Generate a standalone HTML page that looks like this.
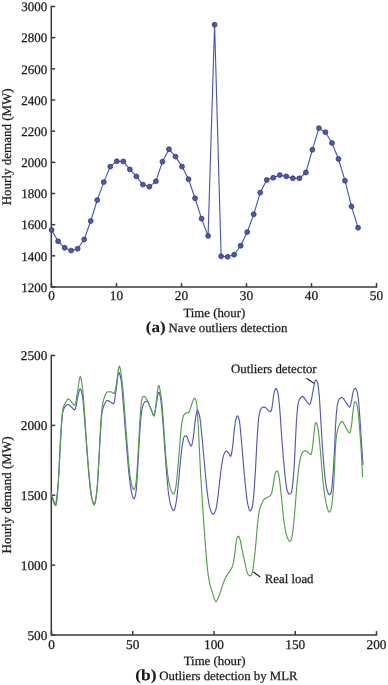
<!DOCTYPE html>
<html lang="en"><head><meta charset="utf-8"><title>Outliers detection</title>
<style>html,body{margin:0;padding:0;background:#fff}svg{display:block}text{text-rendering:geometricPrecision;font-family:"Liberation Serif","Times New Roman",serif;font-size:12.8px;fill:#1a1a1a;stroke:#1a1a1a;stroke-width:0.25px}.t{font-size:13.3px}.b{font-weight:bold;font-size:15.5px;stroke-width:0.15px}</style></head><body>
<svg width="388" height="685" viewBox="0 0 388 685">
<rect width="388" height="685" fill="#fff"/>
<g stroke="#3a3a3a" stroke-width="1.5" fill="none">
<path d="M51.3,5.8 V287.0 H377.2"/>
<path d="M51.5,287.00 h3.7"/>
<path d="M51.5,255.83 h3.7"/>
<path d="M51.5,224.67 h3.7"/>
<path d="M51.5,193.50 h3.7"/>
<path d="M51.5,162.33 h3.7"/>
<path d="M51.5,131.17 h3.7"/>
<path d="M51.5,100.00 h3.7"/>
<path d="M51.5,68.83 h3.7"/>
<path d="M51.5,37.67 h3.7"/>
<path d="M51.5,6.50 h3.7"/>
<path d="M51.50,287.0 v-3.9"/>
<path d="M116.50,287.0 v-3.9"/>
<path d="M181.50,287.0 v-3.9"/>
<path d="M246.50,287.0 v-3.9"/>
<path d="M311.50,287.0 v-3.9"/>
<path d="M376.50,287.0 v-3.9"/>
</g>
<text class="t" style="font-size:13px" x="47.2" y="291.70" text-anchor="end">1200</text>
<text class="t" style="font-size:13px" x="47.2" y="260.53" text-anchor="end">1400</text>
<text class="t" style="font-size:13px" x="47.2" y="229.37" text-anchor="end">1600</text>
<text class="t" style="font-size:13px" x="47.2" y="198.20" text-anchor="end">1800</text>
<text class="t" style="font-size:13px" x="47.2" y="167.03" text-anchor="end">2000</text>
<text class="t" style="font-size:13px" x="47.2" y="135.87" text-anchor="end">2200</text>
<text class="t" style="font-size:13px" x="47.2" y="104.70" text-anchor="end">2400</text>
<text class="t" style="font-size:13px" x="47.2" y="73.53" text-anchor="end">2600</text>
<text class="t" style="font-size:13px" x="47.2" y="42.37" text-anchor="end">2800</text>
<text class="t" style="font-size:13px" x="47.2" y="11.20" text-anchor="end">3000</text>
<text x="51.50" class="t" y="300.30" text-anchor="middle">0</text>
<text x="116.50" class="t" y="300.30" text-anchor="middle">10</text>
<text x="181.50" class="t" y="300.30" text-anchor="middle">20</text>
<text x="246.50" class="t" y="300.30" text-anchor="middle">30</text>
<text x="311.50" class="t" y="300.30" text-anchor="middle">40</text>
<text x="376.50" class="t" y="300.30" text-anchor="middle">50</text>
<text style="font-size:13px" transform="translate(11.4,146.8) rotate(-90)" text-anchor="middle">Hourly demand (MW)</text>
<text x="214.3" y="317" text-anchor="middle">Time (hour)</text>
<text class="b" transform="translate(145.7,332.3) scale(1.10,1)">(a)</text>
<text x="168.6" y="332.4">Nave outliers detection</text>
<path d="M51.60,230.00 L58.12,241.30 L64.64,247.80 L71.16,250.60 L77.68,248.80 L84.20,239.50 L90.72,221.00 L97.24,200.10 L103.76,182.10 L110.28,166.60 L116.80,161.20 L123.32,161.40 L129.84,169.40 L136.36,176.40 L142.88,184.60 L149.40,186.70 L155.92,181.30 L162.44,161.70 L168.96,149.20 L175.48,156.60 L182.00,166.60 L188.52,179.20 L195.04,198.30 L201.56,218.70 L208.08,235.90 L214.60,24.70 L221.12,256.30 L227.64,256.80 L234.16,254.70 L240.68,245.70 L247.20,232.10 L253.72,214.30 L260.24,192.60 L266.76,180.00 L273.28,177.70 L279.80,175.10 L286.32,176.40 L292.84,178.20 L299.36,178.30 L305.88,172.50 L312.40,149.70 L318.92,128.10 L325.44,132.20 L331.96,143.00 L338.48,159.00 L345.00,180.70 L351.52,206.40 L358.04,227.80" fill="none" stroke="#4552b8" stroke-width="1.1" stroke-linejoin="round"/>
<g fill="#4d59b0" stroke="#2a327c" stroke-width="0.75">
<circle cx="51.60" cy="230.00" r="2.45"/>
<circle cx="58.12" cy="241.30" r="2.45"/>
<circle cx="64.64" cy="247.80" r="2.45"/>
<circle cx="71.16" cy="250.60" r="2.45"/>
<circle cx="77.68" cy="248.80" r="2.45"/>
<circle cx="84.20" cy="239.50" r="2.45"/>
<circle cx="90.72" cy="221.00" r="2.45"/>
<circle cx="97.24" cy="200.10" r="2.45"/>
<circle cx="103.76" cy="182.10" r="2.45"/>
<circle cx="110.28" cy="166.60" r="2.45"/>
<circle cx="116.80" cy="161.20" r="2.45"/>
<circle cx="123.32" cy="161.40" r="2.45"/>
<circle cx="129.84" cy="169.40" r="2.45"/>
<circle cx="136.36" cy="176.40" r="2.45"/>
<circle cx="142.88" cy="184.60" r="2.45"/>
<circle cx="149.40" cy="186.70" r="2.45"/>
<circle cx="155.92" cy="181.30" r="2.45"/>
<circle cx="162.44" cy="161.70" r="2.45"/>
<circle cx="168.96" cy="149.20" r="2.45"/>
<circle cx="175.48" cy="156.60" r="2.45"/>
<circle cx="182.00" cy="166.60" r="2.45"/>
<circle cx="188.52" cy="179.20" r="2.45"/>
<circle cx="195.04" cy="198.30" r="2.45"/>
<circle cx="201.56" cy="218.70" r="2.45"/>
<circle cx="208.08" cy="235.90" r="2.45"/>
<circle cx="214.60" cy="24.70" r="2.45"/>
<circle cx="221.12" cy="256.30" r="2.45"/>
<circle cx="227.64" cy="256.80" r="2.45"/>
<circle cx="234.16" cy="254.70" r="2.45"/>
<circle cx="240.68" cy="245.70" r="2.45"/>
<circle cx="247.20" cy="232.10" r="2.45"/>
<circle cx="253.72" cy="214.30" r="2.45"/>
<circle cx="260.24" cy="192.60" r="2.45"/>
<circle cx="266.76" cy="180.00" r="2.45"/>
<circle cx="273.28" cy="177.70" r="2.45"/>
<circle cx="279.80" cy="175.10" r="2.45"/>
<circle cx="286.32" cy="176.40" r="2.45"/>
<circle cx="292.84" cy="178.20" r="2.45"/>
<circle cx="299.36" cy="178.30" r="2.45"/>
<circle cx="305.88" cy="172.50" r="2.45"/>
<circle cx="312.40" cy="149.70" r="2.45"/>
<circle cx="318.92" cy="128.10" r="2.45"/>
<circle cx="325.44" cy="132.20" r="2.45"/>
<circle cx="331.96" cy="143.00" r="2.45"/>
<circle cx="338.48" cy="159.00" r="2.45"/>
<circle cx="345.00" cy="180.70" r="2.45"/>
<circle cx="351.52" cy="206.40" r="2.45"/>
<circle cx="358.04" cy="227.80" r="2.45"/>
</g>
<g stroke="#3a3a3a" stroke-width="1.5" fill="none">
<path d="M51.3,354.8 V635.0 H377.2"/>
<path d="M51.5,635.00 h3.7"/>
<path d="M51.5,565.12 h3.7"/>
<path d="M51.5,495.25 h3.7"/>
<path d="M51.5,425.38 h3.7"/>
<path d="M51.5,355.50 h3.7"/>
<path d="M51.50,635.0 v-3.9"/>
<path d="M132.75,635.0 v-3.9"/>
<path d="M214.00,635.0 v-3.9"/>
<path d="M295.25,635.0 v-3.9"/>
<path d="M376.50,635.0 v-3.9"/>
</g>
<text class="t" x="47.4" y="639.70" text-anchor="end">500</text>
<text class="t" x="47.4" y="569.83" text-anchor="end">1000</text>
<text class="t" x="47.4" y="499.95" text-anchor="end">1500</text>
<text class="t" x="47.4" y="430.07" text-anchor="end">2000</text>
<text class="t" x="47.4" y="360.20" text-anchor="end">2500</text>
<text x="51.50" class="t" y="648.50" text-anchor="middle">0</text>
<text x="132.75" class="t" y="648.50" text-anchor="middle">50</text>
<text x="214.00" class="t" y="648.50" text-anchor="middle">100</text>
<text x="295.25" class="t" y="648.50" text-anchor="middle">150</text>
<text x="376.50" class="t" y="648.50" text-anchor="middle">200</text>
<text style="font-size:13px" transform="translate(11.4,495) rotate(-90)" text-anchor="middle">Hourly demand (MW)</text>
<text x="214.6" y="664.7" text-anchor="middle">Time (hour)</text>
<text class="b" transform="translate(135.2,680.4) scale(1.12,1)">(b)</text>
<text x="159.3" y="680.2">Outliers detection by MLR</text>
<path d="M51.10,494.60 L51.91,497.03 L52.73,499.28 L53.54,501.55 L54.35,503.92 L55.16,505.10 L55.98,503.17 L56.79,497.87 L57.60,490.54 L58.41,480.46 L59.23,464.39 L60.04,448.33 L60.85,432.37 L61.66,420.93 L62.48,413.32 L63.29,410.17 L64.10,408.21 L64.91,406.92 L65.72,405.79 L66.54,404.93 L67.35,404.45 L68.16,404.48 L68.97,404.91 L69.79,405.57 L70.60,406.28 L71.41,406.95 L72.22,407.80 L73.04,408.71 L73.85,409.46 L74.66,409.87 L75.47,408.87 L76.29,404.97 L77.10,400.20 L77.91,396.48 L78.72,392.69 L79.54,389.59 L80.35,388.65 L81.16,390.30 L81.97,393.62 L82.79,398.40 L83.60,407.23 L84.41,416.89 L85.22,427.31 L86.04,438.17 L86.85,448.89 L87.66,459.79 L88.47,469.82 L89.29,478.93 L90.10,487.18 L90.91,493.42 L91.72,498.14 L92.54,501.27 L93.35,503.66 L94.16,504.80 L94.97,503.27 L95.79,499.13 L96.60,493.53 L97.41,484.91 L98.22,471.93 L99.04,458.13 L99.85,442.48 L100.66,428.95 L101.47,417.17 L102.29,410.91 L103.10,407.75 L103.91,405.61 L104.72,403.84 L105.54,402.21 L106.35,401.00 L107.16,400.50 L107.97,400.63 L108.79,400.99 L109.60,401.47 L110.41,401.95 L111.22,402.41 L112.04,402.99 L112.85,403.52 L113.66,403.79 L114.47,401.55 L115.29,395.50 L116.10,389.78 L116.91,383.23 L117.72,376.81 L118.54,372.71 L119.35,372.66 L120.16,375.31 L120.97,379.27 L121.79,385.82 L122.60,395.27 L123.41,404.91 L124.22,415.40 L125.04,426.10 L125.85,436.61 L126.66,447.08 L127.47,457.04 L128.29,466.92 L129.10,475.43 L129.91,482.04 L130.72,487.72 L131.54,492.11 L132.35,495.46 L133.16,498.18 L133.97,498.95 L134.79,497.57 L135.60,494.74 L136.41,488.51 L137.22,476.45 L138.04,463.06 L138.85,447.72 L139.66,433.96 L140.47,422.07 L141.29,414.16 L142.10,408.72 L142.91,405.77 L143.72,403.57 L144.54,402.25 L145.35,401.63 L146.16,401.21 L146.97,401.13 L147.79,401.98 L148.60,403.53 L149.41,405.22 L150.22,407.10 L151.04,409.27 L151.85,411.29 L152.66,413.30 L153.47,415.07 L154.29,415.15 L155.10,411.50 L155.91,406.65 L156.72,401.72 L157.54,396.10 L158.35,392.27 L159.16,392.30 L159.97,395.02 L160.79,399.12 L161.60,407.00 L162.41,416.46 L163.22,426.80 L164.04,437.81 L164.85,449.09 L165.66,460.68 L166.47,471.13 L167.29,480.98 L168.10,489.72 L168.91,495.99 L169.72,500.80 L170.54,504.62 L171.35,507.11 L172.16,508.85 L172.97,510.17 L173.79,510.70 L174.60,509.39 L175.41,506.15 L176.22,502.15 L177.04,496.20 L177.85,488.66 L178.66,480.56 L179.47,471.41 L180.29,462.85 L181.10,454.81 L181.91,447.70 L182.72,442.59 L183.54,438.34 L184.35,436.37 L185.16,436.02 L185.97,435.83 L186.79,436.10 L187.60,438.11 L188.41,440.75 L189.22,442.70 L190.04,444.53 L190.85,445.86 L191.66,445.68 L192.47,442.38 L193.29,437.57 L194.10,431.12 L194.91,422.86 L195.72,417.02 L196.54,412.63 L197.35,410.17 L198.16,410.92 L198.97,413.57 L199.79,417.12 L200.60,423.19 L201.41,430.92 L202.22,439.01 L203.04,448.03 L203.85,457.03 L204.66,466.01 L205.47,474.78 L206.29,483.05 L207.10,491.03 L207.91,497.34 L208.72,502.42 L209.54,506.70 L210.35,509.72 L211.16,511.60 L211.97,513.14 L212.79,514.07 L213.60,514.06 L214.41,513.03 L215.22,511.30 L216.04,508.96 L216.85,504.53 L217.66,498.96 L218.47,492.37 L219.29,484.75 L220.10,477.67 L220.91,470.79 L221.72,464.77 L222.54,460.05 L223.35,456.12 L224.16,453.83 L224.97,452.25 L225.79,451.18 L226.60,450.93 L227.41,451.61 L228.22,452.75 L229.04,453.92 L229.85,455.50 L230.66,456.40 L231.47,454.30 L232.29,449.32 L233.10,442.67 L233.91,433.40 L234.72,426.47 L235.54,420.94 L236.35,417.71 L237.16,415.74 L237.97,416.17 L238.79,418.46 L239.60,421.98 L240.41,429.22 L241.22,438.11 L242.04,447.25 L242.85,457.22 L243.66,466.67 L244.47,475.78 L245.29,484.27 L246.10,492.03 L246.91,499.16 L247.72,503.83 L248.54,507.34 L249.35,509.99 L250.16,511.10 L250.97,510.43 L251.79,508.57 L252.60,505.58 L253.41,498.40 L254.22,488.99 L255.04,476.87 L255.85,462.82 L256.66,446.57 L257.48,432.76 L258.29,421.62 L259.10,415.11 L259.91,411.48 L260.73,409.27 L261.54,408.20 L262.35,407.42 L263.16,407.02 L263.98,407.06 L264.79,407.33 L265.60,407.72 L266.41,408.24 L267.23,409.25 L268.04,410.40 L268.85,411.12 L269.66,411.47 L270.48,411.68 L271.29,410.81 L272.10,406.95 L272.91,401.27 L273.73,394.49 L274.54,391.08 L275.35,388.80 L276.16,388.58 L276.98,390.04 L277.79,392.46 L278.60,397.33 L279.41,405.01 L280.23,415.42 L281.04,427.74 L281.85,438.76 L282.66,449.30 L283.48,458.99 L284.29,468.10 L285.10,476.00 L285.91,483.19 L286.73,488.99 L287.54,491.62 L288.35,493.29 L289.16,494.15 L289.98,494.04 L290.79,493.33 L291.60,492.00 L292.41,486.84 L293.23,478.87 L294.04,468.25 L294.85,454.29 L295.66,436.66 L296.48,420.33 L297.29,410.57 L298.10,403.93 L298.91,400.93 L299.73,399.01 L300.54,397.84 L301.35,396.99 L302.16,396.46 L302.98,396.56 L303.79,397.40 L304.60,398.58 L305.41,399.67 L306.23,400.82 L307.04,401.99 L307.85,402.96 L308.66,403.88 L309.48,404.53 L310.29,403.89 L311.10,400.73 L311.91,397.08 L312.73,392.44 L313.54,387.99 L314.35,383.87 L315.16,380.43 L315.98,379.90 L316.79,380.69 L317.60,382.39 L318.41,387.60 L319.23,395.27 L320.04,407.36 L320.85,420.55 L321.66,434.68 L322.48,447.45 L323.29,458.66 L324.10,468.20 L324.91,476.79 L325.73,483.55 L326.54,487.86 L327.35,491.10 L328.16,493.11 L328.98,494.47 L329.79,494.85 L330.60,493.69 L331.41,491.37 L332.23,484.51 L333.04,474.54 L333.85,461.65 L334.66,446.24 L335.48,426.76 L336.29,414.19 L337.10,406.36 L337.91,402.51 L338.73,399.98 L339.54,398.75 L340.35,398.01 L341.16,397.53 L341.98,397.42 L342.79,397.94 L343.60,398.92 L344.41,399.99 L345.23,401.10 L346.04,402.39 L346.85,403.69 L347.66,404.92 L348.48,406.29 L349.29,407.21 L350.10,406.63 L350.91,403.71 L351.73,399.88 L352.54,394.45 L353.35,391.11 L354.16,389.16 L354.98,388.30 L355.79,388.81 L356.60,390.17 L357.41,392.66 L358.23,397.92 L359.04,406.06 L359.85,417.89 L360.66,429.98 L361.48,442.42 L362.29,454.51 L363.00,465.00" fill="none" stroke="#5357bb" stroke-width="1.15" stroke-linejoin="round"/>
<path d="M51.10,492.50 L51.91,495.26 L52.73,497.81 L53.54,500.10 L54.35,502.56 L55.16,504.76 L55.98,505.56 L56.79,501.23 L57.60,492.09 L58.41,481.49 L59.23,467.12 L60.04,451.33 L60.85,436.30 L61.66,423.12 L62.48,412.15 L63.29,407.30 L64.10,405.12 L64.91,403.63 L65.72,402.16 L66.54,400.71 L67.35,399.55 L68.16,398.94 L68.97,399.10 L69.79,399.88 L70.60,400.95 L71.41,402.00 L72.22,402.93 L73.04,404.00 L73.85,404.94 L74.66,405.47 L75.47,404.37 L76.29,400.01 L77.10,394.40 L77.91,389.38 L78.72,383.36 L79.54,378.12 L80.35,376.47 L81.16,379.04 L81.97,383.97 L82.79,390.21 L83.60,399.97 L84.41,410.85 L85.22,423.14 L86.04,435.64 L86.85,447.02 L87.66,457.90 L88.47,467.72 L89.29,476.55 L90.10,484.63 L90.91,491.38 L91.72,496.75 L92.54,500.63 L93.35,503.40 L94.16,504.80 L94.97,503.27 L95.79,499.13 L96.60,493.53 L97.41,484.98 L98.22,472.05 L99.04,457.90 L99.85,441.09 L100.66,426.02 L101.47,413.80 L102.29,406.28 L103.10,401.68 L103.91,398.54 L104.72,396.34 L105.54,394.37 L106.35,392.83 L107.16,391.94 L107.97,391.80 L108.79,391.80 L109.60,391.80 L110.41,391.80 L111.22,391.90 L112.04,392.36 L112.85,392.94 L113.66,393.39 L114.47,393.26 L115.29,390.33 L116.10,385.78 L116.91,381.04 L117.72,374.47 L118.54,368.44 L119.35,366.01 L120.16,368.27 L120.97,373.13 L121.79,378.73 L122.60,386.06 L123.41,394.91 L124.22,405.04 L125.04,416.42 L125.85,427.28 L126.66,437.82 L127.47,447.99 L128.29,458.05 L129.10,467.59 L129.91,474.57 L130.72,479.99 L131.54,484.00 L132.35,486.83 L133.16,489.04 L133.97,489.65 L134.79,488.26 L135.60,485.44 L136.41,479.48 L137.22,468.09 L138.04,455.03 L138.85,439.58 L139.66,425.01 L140.47,411.93 L141.29,402.59 L142.10,397.85 L142.91,396.86 L143.72,396.36 L144.54,396.46 L145.35,397.37 L146.16,398.64 L146.97,399.95 L147.79,401.57 L148.60,403.37 L149.41,405.23 L150.22,407.17 L151.04,409.23 L151.85,411.28 L152.66,413.69 L153.47,415.94 L154.29,416.04 L155.10,411.22 L155.91,404.79 L156.72,398.24 L157.54,390.74 L158.35,385.62 L159.16,385.76 L159.97,389.48 L160.79,394.08 L161.60,400.30 L162.41,408.49 L163.22,419.13 L164.04,430.29 L164.85,442.44 L165.66,453.77 L166.47,462.92 L167.29,471.06 L168.10,477.47 L168.91,482.19 L169.72,486.08 L170.54,488.96 L171.35,491.06 L172.16,492.89 L172.97,494.03 L173.79,493.98 L174.60,492.36 L175.41,489.72 L176.22,484.77 L177.04,476.71 L177.85,468.20 L178.66,458.57 L179.47,448.66 L180.29,438.57 L181.10,428.76 L181.91,422.56 L182.72,418.26 L183.54,415.51 L184.35,414.25 L185.16,413.43 L185.97,413.06 L186.79,412.94 L187.60,412.87 L188.41,412.72 L189.22,411.65 L190.04,409.33 L190.85,407.02 L191.66,404.45 L192.47,402.10 L193.29,400.12 L194.10,398.47 L194.91,398.21 L195.72,399.37 L196.54,401.98 L197.35,411.23 L198.16,423.87 L198.97,440.50 L199.79,457.53 L200.60,474.00 L201.41,486.64 L202.22,498.98 L203.04,511.46 L203.85,523.59 L204.66,535.19 L205.47,546.37 L206.29,556.39 L207.10,565.58 L207.91,572.89 L208.72,578.10 L209.54,582.31 L210.35,585.80 L211.16,588.67 L211.97,591.18 L212.79,593.68 L213.60,596.50 L214.41,598.98 L215.22,600.57 L216.04,601.56 L216.85,600.85 L217.66,598.91 L218.47,597.07 L219.29,595.04 L220.10,592.84 L220.91,590.39 L221.72,587.81 L222.54,585.37 L223.35,583.14 L224.16,580.99 L224.97,579.02 L225.79,577.34 L226.60,575.89 L227.41,574.59 L228.22,573.35 L229.04,572.07 L229.85,570.80 L230.66,569.63 L231.47,568.33 L232.29,566.63 L233.10,564.07 L233.91,560.33 L234.72,553.87 L235.54,546.97 L236.35,540.70 L237.16,537.41 L237.97,536.33 L238.79,536.29 L239.60,538.22 L240.41,540.91 L241.22,544.80 L242.04,549.30 L242.85,553.39 L243.66,557.21 L244.47,560.92 L245.29,564.45 L246.10,568.15 L246.91,571.69 L247.72,573.83 L248.54,574.86 L249.35,575.60 L250.16,575.90 L250.97,575.33 L251.79,573.74 L252.60,571.46 L253.41,566.23 L254.22,559.04 L255.04,551.70 L255.85,543.48 L256.66,533.98 L257.48,524.46 L258.29,517.53 L259.10,511.97 L259.91,508.43 L260.73,505.98 L261.54,504.04 L262.35,502.26 L263.16,500.70 L263.98,499.53 L264.79,498.79 L265.60,498.22 L266.41,497.75 L267.23,497.29 L268.04,496.90 L268.85,496.58 L269.66,496.17 L270.48,495.52 L271.29,494.01 L272.10,491.40 L272.91,486.38 L273.73,481.34 L274.54,476.34 L275.35,473.35 L276.16,471.57 L276.98,470.91 L277.79,471.91 L278.60,474.00 L279.41,478.74 L280.23,485.61 L281.04,493.20 L281.85,501.46 L282.66,509.47 L283.48,517.45 L284.29,523.77 L285.10,528.81 L285.91,532.91 L286.73,535.86 L287.54,538.14 L288.35,539.78 L289.16,540.90 L289.98,541.39 L290.79,540.53 L291.60,538.73 L292.41,534.45 L293.23,528.05 L294.04,520.44 L294.85,510.98 L295.66,500.78 L296.48,490.04 L297.29,480.97 L298.10,472.95 L298.91,466.69 L299.73,461.53 L300.54,457.72 L301.35,455.10 L302.16,453.07 L302.98,451.94 L303.79,451.34 L304.60,450.91 L305.41,450.71 L306.23,450.87 L307.04,451.48 L307.85,452.25 L308.66,452.92 L309.48,453.66 L310.29,454.31 L311.10,454.33 L311.91,451.05 L312.73,445.87 L313.54,437.33 L314.35,429.93 L315.16,424.28 L315.98,422.35 L316.79,423.70 L317.60,426.16 L318.41,431.31 L319.23,438.31 L320.04,446.82 L320.85,456.28 L321.66,466.55 L322.48,476.24 L323.29,484.11 L324.10,490.95 L324.91,496.50 L325.73,501.30 L326.54,505.25 L327.35,508.19 L328.16,510.79 L328.98,512.17 L329.79,511.73 L330.60,510.31 L331.41,507.31 L332.23,501.86 L333.04,493.87 L333.85,481.74 L334.66,464.77 L335.48,446.41 L336.29,436.86 L337.10,431.91 L337.91,428.57 L338.73,426.08 L339.54,424.35 L340.35,422.89 L341.16,421.77 L341.98,421.30 L342.79,421.85 L343.60,423.17 L344.41,424.66 L345.23,426.14 L346.04,427.83 L346.85,429.42 L347.66,430.75 L348.48,432.06 L349.29,432.91 L350.10,432.26 L350.91,428.90 L351.73,423.77 L352.54,415.48 L353.35,409.05 L354.16,403.51 L354.98,401.72 L355.79,402.29 L356.60,403.53 L357.41,407.27 L358.23,412.97 L359.04,421.73 L359.85,431.43 L360.66,442.41 L361.48,455.40 L362.29,470.89 L362.60,477.40" fill="none" stroke="#52a046" stroke-width="1.15" stroke-linejoin="round"/>
<g stroke="#0a0a0a" stroke-width="1.05"><path d="M306.5,378.2 L314.1,383.4"/><path d="M253.3,572 L260.4,577.1"/></g>
<text x="231" y="373.4">Outliers detector</text>
<text x="264.8" y="582.8">Real load</text>
</svg></body></html>
